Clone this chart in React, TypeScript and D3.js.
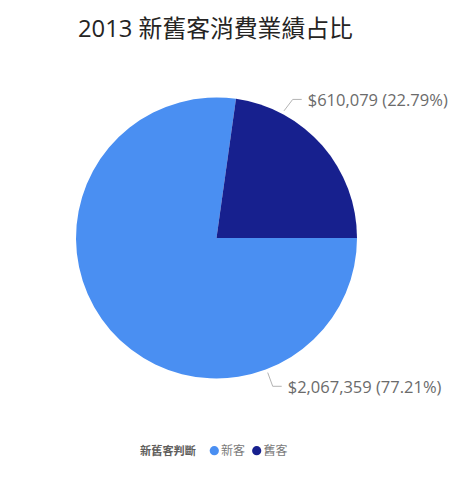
import * as d3 from 'd3';

const categories = ['新客', '舊客'];
const amounts = [2067359, 610079];
const percentLabels = ['77.21%', '22.79%'];
const colors = ['#4A8FF2', '#17208E'];
const title = '2013 新舊客消費業績占比';
const legendTitle = '新舊客判斷';

const FONT = "'Open Sans', 'Noto Sans CJK TC', sans-serif";

export default function App() {
  const width = 474;
  const height = 480;
  const cx = 216.5;
  const cy = 238;
  const r = 140.5;

  const total = d3.sum(amounts);
  const pie = d3
    .pie<number>()
    .sort(null)
    .value((d) => d)
    .startAngle(Math.PI / 2)
    .endAngle(Math.PI / 2 + 2 * Math.PI);
  const arcs = pie(amounts);
  const arcGen = d3.arc<d3.PieArcDatum<number>>().innerRadius(0).outerRadius(r);
  const fmt = d3.format('$,');

  // leader lines: start just outside the slice edge, elbow then horizontal to the label
  const leaderAngles = [2.778, 0.488];
  const leaders = arcs.map((_, i) => {
    const a = leaderAngles[i];
    const p0 = [cx + Math.sin(a) * (r + 3.5), cy - Math.cos(a) * (r + 3.5)];
    const p1 = i === 0 ? [p0[0] + 5, p0[1] + 13.7] : [p0[0] + 8.7, p0[1] - 11.4];
    const p2 = [p1[0] + 9, p1[1]];
    return { p: [p0, p1, p2], i };
  });

  const legendX = 140;
  const legendY = 450.7;

  return (
    <svg
      width={width}
      height={height}
      style={{ position: 'absolute', left: 0, top: 0, background: '#fff' }}
      fontFamily={FONT}
    >
      <text x={78} y={37} fontSize={23.8} fill="#252423">
        {title}
      </text>

      <g>
        {arcs.map((a, i) => (
          <path
            key={categories[i]}
            d={arcGen(a) ?? ''}
            transform={`translate(${cx},${cy})`}
            fill={colors[i]}
          />
        ))}
      </g>

      {leaders.map(({ p, i }) => (
        <g key={`lbl-${i}`}>
          <polyline
            points={p.map((q) => q.join(',')).join(' ')}
            fill="none"
            stroke="#b3b3b3"
            strokeWidth={1}
          />
          <text
            x={p[2][0] + 6}
            y={p[2][1] + 7}
            fontSize={16.5}
            fill="#6b6b6b"
          >
            {`${fmt(amounts[i])} (${percentLabels[i] ?? d3.format('.2%')(amounts[i] / total)})`}
          </text>
        </g>
      ))}

      <g>
        <text x={legendX} y={legendY + 4.2} fontSize={11.2} fontWeight={700} fill="#605E5C">
          {legendTitle}
        </text>
        {categories.map((c, i) => {
          const x = 214.3 + i * 42.4;
          return (
            <g key={`lg-${c}`}>
              <circle cx={x} cy={legendY} r={4.6} fill={colors[i]} />
              <text x={x + 6.8} y={legendY + 4.3} fontSize={12} fill="#7a7a7a">
                {c}
              </text>
            </g>
          );
        })}
      </g>
    </svg>
  );
}
